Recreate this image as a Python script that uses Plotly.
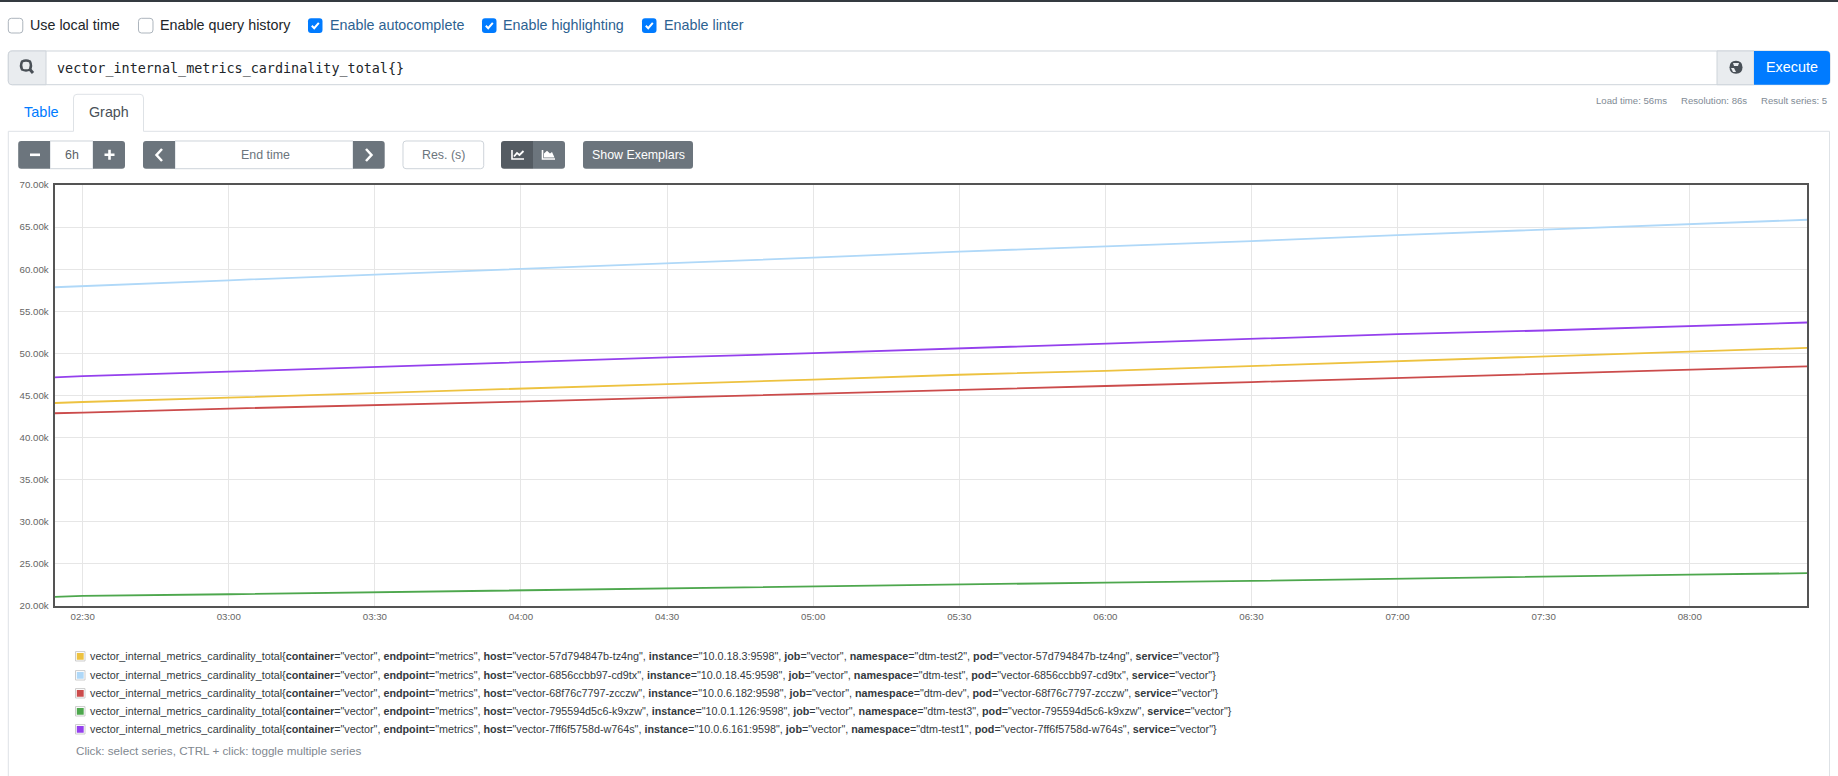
import re

import plotly.graph_objects as go

W, H = 1838, 776

# values, in thousands
times = ["02:24:14", "02:30", "03:00", "03:30", "04:00", "04:30", "05:00", "05:30",
         "06:00", "06:30", "07:00", "07:30", "08:00", "08:24:08"]
yellow = [44.08, 44.20, 44.71, 45.27, 45.78, 46.33, 46.85, 47.44, 47.91, 48.47, 49.06, 49.62, 50.13, 50.64]
blue = [57.84, 57.96, 58.67, 59.35, 60.01, 60.69, 61.36, 62.08, 62.70, 63.33, 64.05, 64.69, 65.35, 65.87]
red = [42.86, 42.93, 43.41, 43.81, 44.24, 44.71, 45.15, 45.62, 46.10, 46.57, 47.08, 47.56, 48.03, 48.44]
green = [21.02, 21.15, 21.34, 21.58, 21.82, 22.06, 22.29, 22.49, 22.73, 22.93, 23.20, 23.44, 23.68, 23.84]
purple = [47.13, 47.28, 47.80, 48.39, 48.94, 49.50, 50.00, 50.57, 51.08, 51.64, 52.27, 52.70, 53.21, 53.65]

series = [yellow, blue, red, green, purple]
colors = ["#edc240", "#afd8f8", "#cb4b4b", "#4da74d", "#9440ed"]
hosts = ["vector-57d794847b-tz4ng", "vector-6856ccbb97-cd9tx", "vector-68f76c7797-zcczw",
         "vector-795594d5c6-k9xzw", "vector-7ff6f5758d-w764s"]
instances = ["10.0.18.3:9598", "10.0.18.45:9598", "10.0.6.182:9598", "10.0.1.126:9598", "10.0.6.161:9598"]
namespaces = ["dtm-test2", "dtm-test", "dtm-dev", "dtm-test3", "dtm-test1"]

y_ticks = [20, 25, 30, 35, 40, 45, 50, 55, 60, 65, 70]
y_labels = ["20.00k", "25.00k", "30.00k", "35.00k", "40.00k", "45.00k", "50.00k", "55.00k",
            "60.00k", "65.00k", "70.00k"]
x_labels = ["02:30", "03:00", "03:30", "04:00", "04:30", "05:00", "05:30", "06:00",
            "06:30", "07:00", "07:30", "08:00"]

day = "2022-06-01 "
x = [day + t for t in times]

SANS = "Liberation Sans"
MONO = "DejaVu Sans Mono"
shapes = []
notes = []


def pth(d):
    # path in page pixels -> path in paper fractions
    nums = iter(range(10000))
    def conv(m):
        v = float(m.group())
        return f"{v / W:.5f}" if next(nums) % 2 == 0 else f"{1 - v / H:.5f}"
    return re.sub(r"-?\d+\.?\d*", conv, d)


def path(d, fill=None, line=None, lw=1):
    s = dict(type="path", xref="paper", yref="paper", path=pth(d), line=dict(width=0))
    if fill:
        s["fillcolor"] = fill
    if line:
        s["line"] = dict(color=line, width=lw)
    shapes.append(s)


def box(x0, y0, x1, y1, fill=None, line=None, lw=1, rl=0, rr=0):
    d = (f"M {x0 + rl} {y0} L {x1 - rr} {y0} Q {x1} {y0} {x1} {y0 + rr} L {x1} {y1 - rr} "
         f"Q {x1} {y1} {x1 - rr} {y1} L {x0 + rl} {y1} Q {x0} {y1} {x0} {y1 - rl} "
         f"L {x0} {y0 + rl} Q {x0} {y0} {x0 + rl} {y0} Z")
    path(d, fill, line, lw)


def text(x0, y0, s, size=14.3, color="#212529", anchor="left", family=SANS):
    notes.append(dict(x=x0 / W, y=1 - y0 / H, xref="paper", yref="paper", text=s, showarrow=False,
                      xanchor=anchor, yanchor="middle", borderpad=0, borderwidth=0,
                      font=dict(family=family, size=size, color=color)))


# top bar
box(0, 0, W, 2, fill="#343a40")

# option checkboxes
for bx, tx, label, on in [
    (8.3, 30.4, "Use local time", False),
    (138.5, 159.5, "Enable query history", False),
    (308, 329.6, "Enable autocomplete", True),
    (482, 503, "Enable highlighting", True),
    (642, 663.5, "Enable linter", True),
]:
    if on:
        box(bx, 18.3, bx + 14.5, 33, fill="#007bff", rl=3, rr=3)
        path(f"M {bx + 3.8} 25.8 L {bx + 6.2} 28.2 L {bx + 10.8} 22.8", line="white", lw=2)
    else:
        box(bx, 18.3, bx + 14.5, 33, fill="white", line="#adb5bd", rl=3, rr=3)
    text(tx, 25, label, color="#2d6291" if on else "#212529")

# query bar
box(8.3, 51, 1830, 84.7, fill="white", line="#ced4da", rl=4, rr=4)
box(8.3, 51, 46, 84.7, fill="#e9ecef", line="#ced4da", rl=4)
path("M 22 61.5 Q 26 59.5 30 61.5 Q 32 65.5 30 69.5 Q 26 71.5 22 69.5 Q 20 65.5 22 61.5 Z", line="#495057", lw=2.4)
path("M 29.5 69 L 33 73", line="#495057", lw=3)
text(57.3, 69, "vector_internal_metrics_cardinality_total{}", size=13.42, color="#212529", family=MONO)
box(1717, 51, 1754, 84.7, fill="#e9ecef", line="#ced4da")
path("M 1729.5 67.3 Q 1729.5 60.8 1736 60.8 Q 1742.5 60.8 1742.5 67.3 Q 1742.5 73.8 1736 73.8 "
     "Q 1729.5 73.8 1729.5 67.3 Z", fill="#495057")
path("M 1733 63 L 1739 63 L 1738 66 L 1734 66 Z", fill="#e9ecef")
path("M 1731 68 L 1734 68 L 1736 72 L 1733 72 Z", fill="#e9ecef")
box(1754, 51, 1830, 84.7, fill="#007bff", rr=4)
text(1792, 67, "Execute", size=14.4, color="white", anchor="center")

# query stats
text(1595.8, 101, "Load time: 56ms", size=9.6, color="#7f8b95")
text(1681, 101, "Resolution: 86s", size=9.6, color="#7f8b95")
text(1761, 101, "Result series: 5", size=9.6, color="#7f8b95")

# tabs and panel
P = "#dee2e6"
path("M 8.3 776 L 8.3 131.3 L 73.5 131.3 L 73.5 98 Q 73.5 94.3 77 94.3 L 140 94.3 Q 143.5 94.3 143.5 98 "
     "L 143.5 131.3 L 1829.5 131.3 L 1829.5 776", line=P)
text(24, 112, "Table", size=14.5, color="#007bff")
text(88.5, 112, "Graph", size=14.3, color="#495057")

# range controls
G, D = "#6c757d", "#545b62"
box(50, 141, 93, 168.7, fill="white", line="#ced4da")
box(18.2, 141, 50, 168.7, fill=G, rl=3)
box(93, 141, 125, 168.7, fill=G, rr=3)
path("M 30 154.8 L 40 154.8", line="white", lw=2.6)
path("M 104.5 154.8 L 114.5 154.8 M 109.5 149.8 L 109.5 159.8", line="white", lw=2.6)
text(71.6, 155, "6h", size=12.4, color="#5a6268", anchor="center")
box(175, 141, 353, 168.7, fill="white", line="#ced4da")
box(143, 141, 175, 168.7, fill=G, rl=3)
box(353, 141, 384.7, 168.7, fill=G, rr=3)
path("M 162 149 L 156.5 155 L 162 161", line="white", lw=2.5)
path("M 366 149 L 371.5 155 L 366 161", line="white", lw=2.5)
text(265, 155, "End time", size=12.4, color="#6c757d", anchor="center")
box(403, 141, 483.7, 168.7, fill="white", line="#ced4da", rl=3, rr=3)
text(443.3, 155, "Res. (s)", size=12.4, color="#6c757d", anchor="center")
box(501, 141, 533, 168.7, fill=D, rl=3)
box(533, 141, 565, 168.7, fill=G, rr=3)
path("M 512 150 L 512 159 L 524 159", line="white", lw=1.6)
path("M 514 156.5 L 517 153 L 519.5 155 L 523.5 151", line="white", lw=1.8)
path("M 542.5 150 L 542.5 159 L 555 159", line="white", lw=1.6)
path("M 544 157.5 L 544 153.5 L 547 150.8 L 550 153.5 L 552 152 L 554.5 157.5 Z", fill="white")
box(583, 141, 693, 168.7, fill=G, rl=3, rr=3)
text(638, 155, "Show Exemplars", size=12.4, color="white", anchor="center")

# legend
for i in range(5):
    y0 = [656.3, 675.3, 693.3, 711.3, 729.3][i]
    box(75.5, y0 - 4.7, 85, y0 + 4.7, fill="white", line="#cccccc")
    box(76.8, y0 - 3.4, 83.7, y0 + 3.4, fill=colors[i])
    label = ('vector_internal_metrics_cardinality_total{<b>container</b>="vector", '
             f'<b>endpoint</b>="metrics", <b>host</b>="{hosts[i]}", <b>instance</b>="{instances[i]}", '
             f'<b>job</b>="vector", <b>namespace</b>="{namespaces[i]}", <b>pod</b>="{hosts[i]}", '
             '<b>service</b>="vector"}')
    text(90, y0, label, size=10.77, color="#343a40")
text(76, 750.3, "Click: select series, CTRL + click: toggle multiple series", size=11.68, color="#7f8890")

fig = go.Figure()
for i, vals in enumerate(series):
    fig.add_trace(go.Scatter(x=x, y=vals, mode="lines", name=hosts[i], showlegend=False,
                             line=dict(color=colors[i], width=1.8)))

fig.update_layout(
    width=W, height=H, margin=dict(l=0, r=0, t=0, b=0, pad=0),
    paper_bgcolor="white", plot_bgcolor="white",
    shapes=shapes, annotations=notes,
    font=dict(family=SANS),
    xaxis=dict(
        domain=[54.6 / W, 1807.3 / W], type="date", automargin=False,
        range=[x[0], x[-1]],
        tickvals=[day + t for t in x_labels], ticktext=x_labels,
        tickfont=dict(size=9.7, color="#666666"), ticks="", ticklabelstandoff=1,
        showgrid=True, gridcolor="#e6e6e6", gridwidth=1.4, zeroline=False,
        showline=True, mirror=True, linecolor="#545454", linewidth=2,
    ),
    yaxis=dict(
        domain=[1 - 605.5 / H, 1 - 185 / H], automargin=False,
        range=[20, 70], tickvals=y_ticks, ticktext=y_labels,
        tickfont=dict(size=9.7, color="#666666"), ticks="", ticklabelstandoff=2,
        showgrid=True, gridcolor="#e6e6e6", gridwidth=1.4, zeroline=False,
        showline=True, mirror=True, linecolor="#545454", linewidth=2,
    ),
)

fig.write_html("out.html", config={"displayModeBar": False},
               post_script="document.body.style.margin='0';document.body.style.overflow='hidden';")
